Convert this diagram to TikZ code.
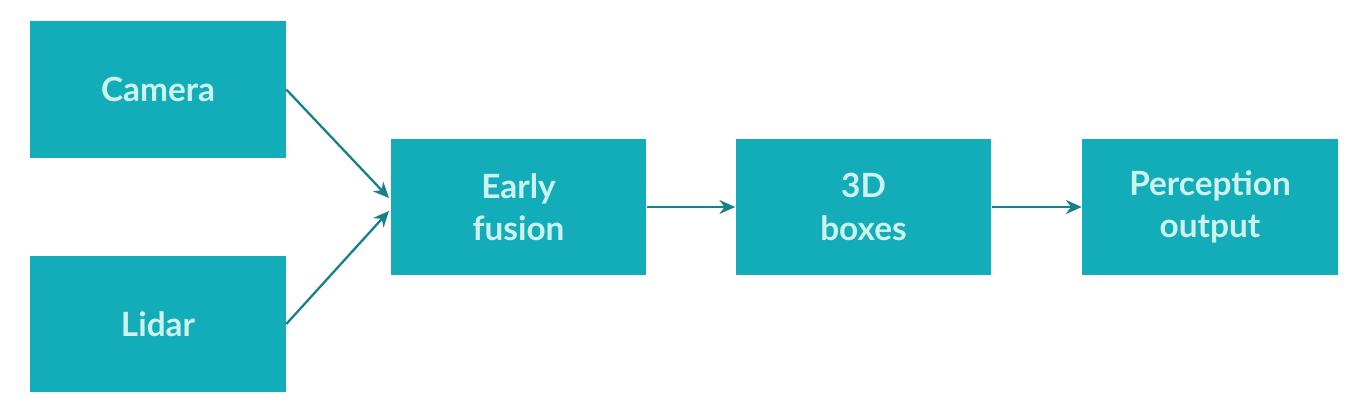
\documentclass[tikz,border=0pt]{standalone}
\usepackage{fontspec}
\setmainfont{Lato}
\usetikzlibrary{arrows.meta}
\definecolor{boxc}{HTML}{12ADB9}
\definecolor{txtc}{HTML}{CDF2EE}
\definecolor{arrc}{HTML}{17808A}
\begin{document}
\begin{tikzpicture}[x=0.02cm,y=-0.02cm,
  blk/.style={fill=boxc,draw=none,minimum width=5.12cm,minimum height=2.74cm,inner sep=0pt,
    text=txtc,font=\fontsize{19}{24}\selectfont\bfseries,align=center},
  arr/.style={draw=arrc,line width=1.3pt,-{Stealth[length=9pt,width=8pt]}}]
\useasboundingbox (0,0) rectangle (1358,413);
\node[blk] (cam) at (158,89.5) {Camera};
\node[blk] (lid) at (158,324) {Lidar};
\node[blk] (ef) at (518.5,207) {Early\\fusion};
\node[blk] (box) at (863.5,207) {3D\\boxes};
\node[blk] (po) at (1210,207) {Perception\\output};
\coordinate (e1) at (389,198);
\coordinate (e2) at (389,211);
\draw[arr] (cam.east) -- (e1);
\draw[arr] (lid.east) -- (e2);
\draw[arr] (ef) -- (box);
\draw[arr] (box) -- (po);
\end{tikzpicture}
\end{document}
